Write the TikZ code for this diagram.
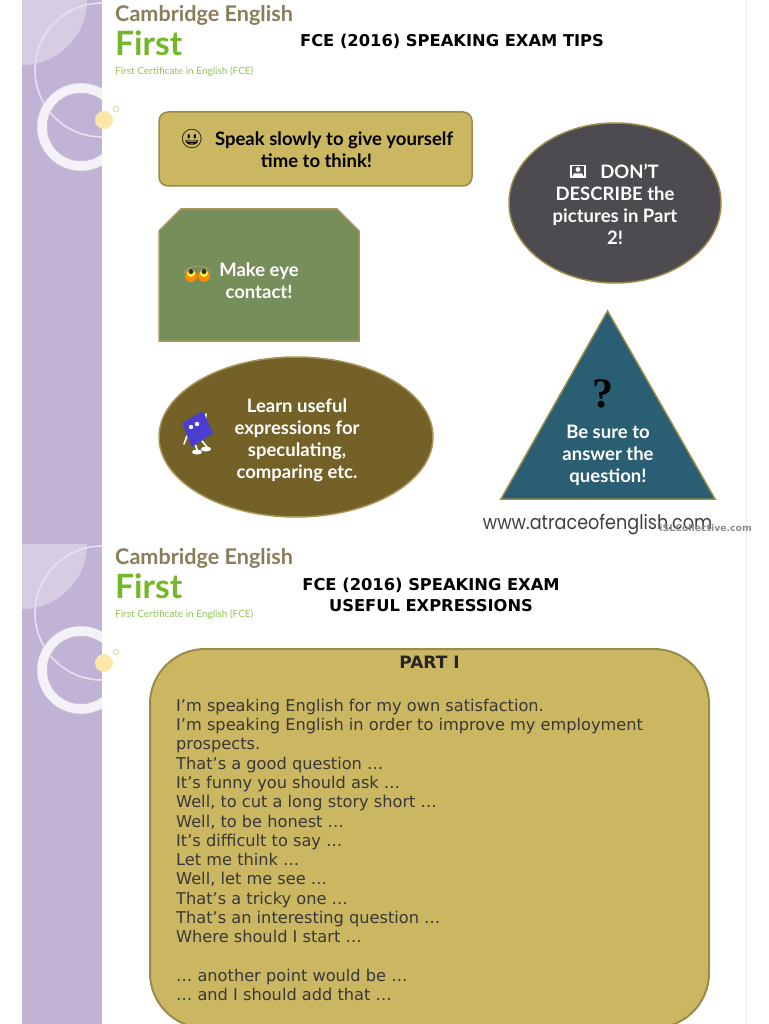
\documentclass[tikz,border=0pt]{standalone}
\usepackage{fontspec}
\usepackage{tikz}
\usetikzlibrary{shapes.geometric}
\setmainfont{DejaVu Sans}
\newfontfamily\gillfont{Lato}
\newfontfamily\emojifont{Noto Emoji}
\newfontfamily\webfont{Poppins}
\newfontfamily\curlyfont{Liberation Serif}
\definecolor{sidepurple}{HTML}{C1B3D6}
\definecolor{sidelight}{HTML}{D6CCE4}
\definecolor{sidering}{HTML}{F4F1F8}
\definecolor{sidearc}{HTML}{E6E0EF}
\definecolor{ballyellow}{HTML}{FBE8A8}
\definecolor{logobrown}{HTML}{8A7D5A}
\definecolor{logogreen}{HTML}{74B72A}
\definecolor{sand}{HTML}{CBB661}
\definecolor{sandedge}{HTML}{9A8B4A}
\definecolor{tipgreen}{HTML}{768F5A}
\definecolor{tipolive}{HTML}{736127}
\definecolor{tipgrey}{HTML}{4E4B50}
\definecolor{tipteal}{HTML}{2A5F73}
\definecolor{tipedge}{HTML}{A8955A}
\definecolor{bookblue}{HTML}{4A3ED0}
\tikzset{
  tipshape/.style={draw=tipedge,line width=1.5pt,inner sep=0pt},
  tiptext/.style={align=center,text=white,font=\gillfont\bfseries\fontsize{18.5}{22}\selectfont},
  headtext/.style={align=center,text=black,font=\bfseries\fontsize{16.3}{21}\selectfont},
  logoname/.style={anchor=west,text=logobrown,inner sep=0pt,font=\gillfont\bfseries\fontsize{21.6}{23}\selectfont},
  logofirst/.style={anchor=west,text=logogreen,inner sep=0pt,font=\gillfont\bfseries\fontsize{33.5}{37}\selectfont},
  logosmall/.style={anchor=west,text=logogreen!80!white,inner sep=0pt,font=\gillfont\fontsize{10}{11}\selectfont},
  ringedge/.style={color=black!22,line width=.5pt}
}
\begin{document}
\begin{tikzpicture}[x=1pt,y=-1pt]
\path[use as bounding box,clip] (0,0) rectangle (768,1024);
\fill[white] (0,0) rectangle (768,1024);
\draw[color=black!7,line width=.7pt] (746,0) -- (746,1024);
% left bands
\begin{scope}
\clip (22,0) rectangle (102,1024);
\fill[sidepurple] (22,0) rectangle (102,1024);
\fill[sidelight] (22,0) circle (65);
\fill[sidelight] (22,544) -- (87,544) arc (0:90:65) -- cycle;
\draw[sidearc,line width=1.6pt] (102,70) circle (67);
\draw[sidearc,line width=1.6pt] (102,613) circle (67);
\fill[sidering,even odd rule] (81,127) circle (44) (81,127) circle (34);
\fill[sidering,even odd rule] (81,670) circle (44) (81,670) circle (34);
\draw[ringedge] (81,127) circle (44);
\draw[ringedge] (81,127) circle (34);
\draw[ringedge] (81,670) circle (44);
\draw[ringedge] (81,670) circle (34);
\end{scope}
\fill[ballyellow] (104,120) circle (9);
\fill[ballyellow] (104,663) circle (9);
\draw[color=logogreen!40!white,fill=white,line width=.8pt] (116,109) circle (3);
\draw[color=logogreen!40!white,fill=white,line width=.8pt] (116,652) circle (3);
% logos
\node at (115,15) [logoname] (Logo1) {Cambridge English};
\node at (115,43) [logofirst] (First1) {First};
\node at (115,72) [logosmall] (Cert1) {First Certificate in English (FCE)};
\node at (115,558) [logoname] (Logo2) {Cambridge English};
\node at (115,586) [logofirst] (First2) {First};
\node at (115,615) [logosmall] (Cert2) {First Certificate in English (FCE)};
% titles
\node at (452,41) [headtext] (Title1) {FCE (2016) SPEAKING EXAM TIPS};
\node at (431,595) [headtext] (Title2) {FCE (2016) SPEAKING EXAM\\USEFUL EXPRESSIONS};
% tips
\node at (315.5,149) [tipshape,rectangle,rounded corners=9pt,fill=sand,draw=sandedge,minimum width=313pt,minimum height=74pt] (Tip1) {};
\node at (316.5,149) [tiptext,text=black] (Tip1text) {{\emojifont\fontsize{19}{19}\selectfont 😃}\hspace{11pt}Speak slowly to give yourself\\time to think!};
\draw[fill=tipgreen,draw=tipedge,line width=1.5pt] (159,341) -- (159,231) -- (181,209) -- (337,209) -- (359,231) -- (359,341) -- cycle;
\node at (259,281) [tiptext] (Tip2text) {Make eye\\contact!};
\node at (296,437) [tipshape,ellipse,fill=tipolive,minimum width=274pt,minimum height=160pt] (Tip3) {};
\node at (297,440.5) [tiptext] (Tip3text) {Learn useful\\expressions for\\speculating,\\comparing etc.};
\node at (615,203) [tipshape,ellipse,fill=tipgrey,draw=sandedge,minimum width=212pt,minimum height=160pt] (Tip4) {};
\node at (615,204) [tiptext] (Tip4text) {\hspace*{29pt}DON’T\\DESCRIBE the\\pictures in Part\\2!};
% photo sign
\draw[white,line width=1.4pt] (571,165.5) rectangle (585,177.5);
\fill[white] (578,169.5) circle (2.4);
\fill[white] (572,177) -- (574,173.5) -- (582,173.5) -- (584,177) -- cycle;
\draw[fill=tipteal,draw=sandedge,line width=1.5pt,line join=miter] (607.5,311) -- (715,499) -- (501,499) -- cycle;
\node at (608,455.5) [tiptext] (Tip5text) {Be sure to\\answer the\\question!};
\node at (603,394) [text=black,inner sep=0pt,font=\curlyfont\bfseries\fontsize{42}{44}\selectfont] (Query) {?};
% eyes
\fill[orange!90!yellow] (191,276) circle (6);
\fill[orange!90!yellow] (204,276) circle (6);
\fill[yellow!70!white] (191,273) circle (4);
\fill[yellow!70!white] (204,273) circle (4);
\fill[black!80] (191,271.5) circle (2.6);
\fill[black!80] (204,271.5) circle (2.6);
\draw[color=tipolive!60!white,line width=.8pt] (184,273) .. controls (188,264) and (208,264) .. (212,273);
% book
\draw[white,line width=1.6pt,line cap=round] (195,444) -- (198,452);
\draw[white,line width=1.6pt,line cap=round] (202,441) -- (207,447);
\draw[white,line width=1.6pt,line cap=round] (187,436) -- (184,444);
\draw[white,line width=1.6pt,line cap=round] (205,424) -- (206,414);
\fill[bookblue] (182,423) -- (203,411) -- (213,433) -- (192,447) -- cycle;
\fill[white] (191,427) circle (2.2);
\fill[white] (197,424) circle (2.2);
\fill[white] (206,449) ellipse (5 and 2.5);
\fill[white] (197,452) ellipse (5 and 2.5);
% web address
\node at (597.5,525) [xscale=.88,text=black!75,inner sep=0pt,font=\webfont\fontsize{20}{20}\selectfont] (Web) {www.atraceofenglish.com};
\node at (752,528) [anchor=east,text=black!45,inner sep=0pt,font=\bfseries\fontsize{9.3}{10}\selectfont] (Mark) {iSLCollective.com};
% expressions
\node at (429.5,838.5) [rectangle,rounded corners=55pt,fill=sand,draw=sandedge,line width=2pt,minimum width=559pt,minimum height=379pt,inner sep=0pt] (Part1) {};
\node at (429.5,662) [text=black!85,inner sep=0pt,font=\bfseries\fontsize{17}{17}\selectfont] (Part1head) {PART I};
\node at (176,698.5) [anchor=north west,align=left,text=black!78,inner sep=0pt,font=\fontsize{16.2}{19.33}\selectfont] (Part1text) {I’m speaking English for my own satisfaction.\\
I’m speaking English in order to improve my employment\\
prospects.\\
That’s a good question …\\
It’s funny you should ask …\\
Well, to cut a long story short …\\
Well, to be honest …\\
It’s difficult to say …\\
Let me think …\\
Well, let me see …\\
That’s a tricky one …\\
That’s an interesting question …\\
Where should I start …\\
~\\
… another point would be …\\
… and I should add that …};
\end{tikzpicture}
\end{document}
